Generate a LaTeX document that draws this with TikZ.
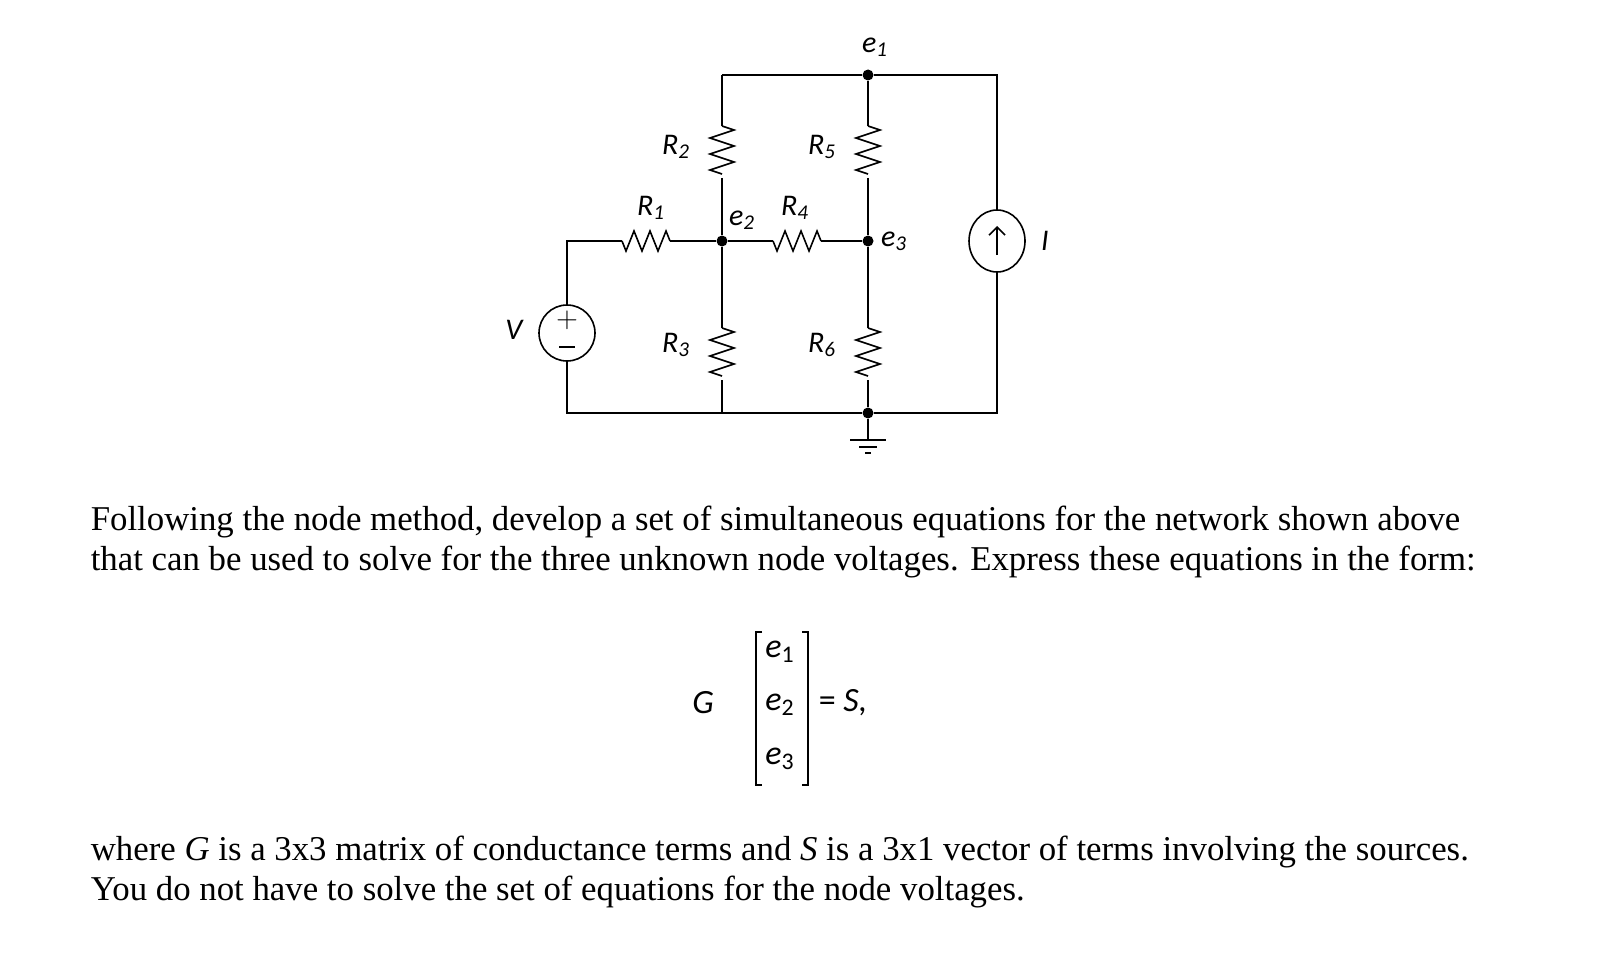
\documentclass[tikz,border=0pt]{standalone}
\usetikzlibrary{shapes.geometric,arrows.meta}
\usepackage{fontspec}
\setmainfont{Liberation Serif}
\newfontfamily\calib{Carlito}
\begin{document}
\begin{tikzpicture}[x=0.5pt,y=-0.5pt,line width=0.8pt,
  dot/.style={circle,fill=black,inner sep=0pt,minimum size=5.5pt},
  lab/.style={font=\calib\fontsize{15}{17}\selectfont\itshape},
  txt/.style={anchor=base west,inner sep=0pt,font=\fontsize{17.4}{20}\selectfont},
  mat/.style={font=\calib\fontsize{17}{20}\selectfont\itshape,inner sep=0pt},
  vres/.pic={\draw (0,-26) -- ++(12,4) -- ++(-24,8) -- ++(24,8) -- ++(-24,8) -- ++(24,8) -- ++(-24,8) -- ++(12,4);},
  hres/.pic={\draw (-24,0) -- ++(4,10) -- ++(8,-20) -- ++(8,20) -- ++(8,-20) -- ++(8,20) -- ++(8,-20) -- ++(4,10);}]
\useasboundingbox (0,0) rectangle (1620,952);
\fill[white] (0,0) rectangle (1620,952);
% junctions
\coordinate (tl) at (722,75); \coordinate (tr) at (997,75);
\coordinate (bl) at (567,413); \coordinate (br) at (997,413);
\coordinate (ml) at (567,241); \coordinate (b2) at (722,413);
\node[dot] (e1) at (868,75) {};
\node[dot] (e2) at (722,241) {};
\node[dot] (e3) at (868,241) {};
\node[dot] (g) at (868,413) {};
% resistors positions
\coordinate (R2) at (722,152); \coordinate (R5) at (868,152);
\coordinate (R3) at (722,354); \coordinate (R6) at (868,354);
\coordinate (R1) at (646,241); \coordinate (R4) at (797,241);
\pic at (R2) {vres}; \pic at (R5) {vres};
\pic at (R3) {vres}; \pic at (R6) {vres};
\pic at (R1) {hres}; \pic at (R4) {hres};
% sources
\node[draw,circle,minimum size=28pt,inner sep=0pt] (V) at (567,333) {};
\node[font=\fontsize{14}{15}\selectfont] at (567,320) {$+$};
\draw (559,347) -- (575,347);
\node[draw,ellipse,minimum width=28pt,minimum height=31pt,inner sep=0pt] (I) at (997,241) {};
\draw[-{Straight Barb[length=4pt]}] (997,255) -- (997,226);
% wires
\draw (tl) -- (e1) -- (tr) -- (I.north);
\draw (I.south) -- (br) -- (g) -- (b2) -- (bl) -- (V.south);
\draw (V.north) -- (ml) -- ++(55,0);
\draw (670,241) -- (e2) -- (773,241);
\draw (821,241) -- (e3);
\draw (tl) -- (722,126); \draw (722,178) -- (e2) -- (722,328); \draw (722,380) -- (b2);
\draw (e1) -- (868,126); \draw (868,178) -- (e3) -- (868,328); \draw (868,380) -- (g);
% ground
\draw (g) -- (868,440);
\draw (850,440) -- (886,440); \draw (859,447) -- (877,447); \draw (865,453) -- (871,453);
% labels
\node[lab] at (875,47) {e\textsubscript{1}};
\node[lab] at (676,147) {R\textsubscript{2}};
\node[lab] at (822,147) {R\textsubscript{5}};
\node[lab] at (651,208) {R\textsubscript{1}};
\node[lab] at (742,220) {e\textsubscript{2}};
\node[lab] at (795,208) {R\textsubscript{4}};
\node[lab] at (894,241) {e\textsubscript{3}};
\node[lab] at (1045,241) {I};
\node[lab] at (514,330) {V};
\node[lab] at (676,345) {R\textsubscript{3}};
\node[lab] at (822,345) {R\textsubscript{6}};
% text
\node[txt] (t1) at (90,530) {Following the node method, develop a set of simultaneous equations for the network shown above};
\node[txt] (t2) at (90,570) {that can be used to solve for the three unknown node voltages. Express these equations in the form:};
\node[txt] (t3) at (90,860) {where \textit{G} is a 3x3 matrix of conductance terms and \textit{S} is a 3x1 vector of terms involving the sources.};
\node[txt] (t4) at (90,900) {You do not have to solve the set of equations for the node voltages.};
% matrix
\node[mat] (G) at (703,703) {G};
\draw (762,632) -- (756,632) -- (756,785) -- (762,785);
\draw (802,632) -- (808,632) -- (808,785) -- (802,785);
\node[mat] (m1) at (780,652) {e\textsubscript{\upshape 1}};
\node[mat] (m2) at (780,705) {e\textsubscript{\upshape 2}};
\node[mat] (m3) at (780,759) {e\textsubscript{\upshape 3}};
\node[mat,anchor=west] (S) at (818,703) {{\upshape =} S,};
\end{tikzpicture}
\end{document}
